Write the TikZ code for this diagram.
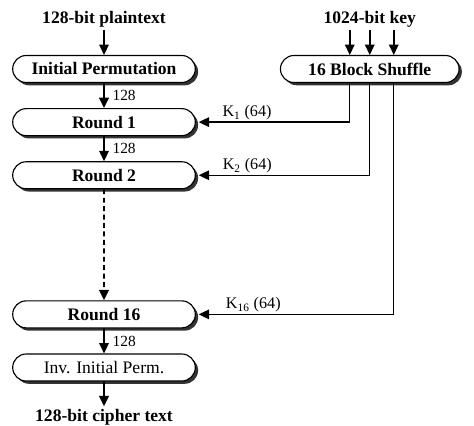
\documentclass[tikz,border=0pt]{standalone}
\usepackage{fontspec}
\setmainfont{Liberation Serif}
\usepackage{tikz}
\usetikzlibrary{shapes.misc, arrows.meta, positioning, shadows}

\begin{document}
\begin{tikzpicture}[
    node distance=0.625cm,
    title/.style={font=\fontsize{12.5}{14}\selectfont\bfseries, inner sep=2pt},
    block/.style={rounded rectangle, minimum width=4.8cm, minimum height=0.675cm, text centered, draw=black, line width=0.8pt, fill=white, font=\fontsize{12.5}{14}\selectfont\bfseries,
        drop shadow={shadow xshift=2pt, shadow yshift=-2pt, fill=black!80, opacity=1}},
    bits/.style={font=\fontsize{11}{12}\selectfont, inner sep=2pt, right, xshift=0.12cm},
    keylabel/.style={font=\fontsize{11.5}{12}\selectfont, inner sep=1pt, anchor=south},
    arrow/.style={line width=1.3pt, -{Triangle[length=0.26cm, width=0.24cm]}},
    keyline/.style={line width=1pt, -{Triangle[length=0.26cm, width=0.24cm]}},
]
    \useasboundingbox (0,0) rectangle (11.85,-10.65);

    % data path
    \node (init) [block] at (2.6,-1.725) {Initial Permutation};
    \node (plain) [title, above=0.62cm of init] {128-bit plaintext};
    \node (round1) [block, below=of init] {Round 1};
    \node (round2) [block, below=of round1] {Round 2};
    \node (round16) [block, below=2.775cm of round2] {Round 16};
    \node (invperm) [block, below=of round16, font=\fontsize{12.5}{14}\selectfont] {Inv. Initial Perm.};
    \node (cipher) [title, below=0.62cm of invperm] {128-bit cipher text};

    % key schedule
    \node (shuffle) [block, minimum width=4.7cm, right=2.1cm of init] {16 Block Shuffle};
    \node (key) [title, above=0.62cm of shuffle] {1024-bit key};

    \draw [arrow] (plain) -- (init);
    \draw [arrow] (init) -- node[bits] {128} (round1);
    \draw [arrow] (round1) -- node[bits] {128} (round2);
    \draw [arrow, dashed, dash pattern=on 3.5pt off 2.5pt] (round2) -- (round16);
    \draw [arrow] (round16) -- node[bits] {128} (invperm);
    \draw [arrow] (invperm) -- (cipher);

    \draw [arrow] ([xshift=-0.5cm]key.south) -- ([xshift=-0.5cm]shuffle.north);
    \draw [arrow] (key.south) -- (shuffle.north);
    \draw [arrow] ([xshift=0.6cm]key.south) -- ([xshift=0.6cm]shuffle.north);

    \draw [keyline] ([xshift=-0.5cm]shuffle.south) |- node[keylabel, pos=0.84] {K\textsubscript{1} (64)} ([xshift=2pt]round1.east);
    \draw [keyline] (shuffle.south) |- node[keylabel, pos=0.858] {K\textsubscript{2} (64)} ([xshift=2pt]round2.east);
    \draw [keyline] ([xshift=0.6cm]shuffle.south) |- node[keylabel, pos=0.86] {K\textsubscript{16} (64)} ([xshift=2pt]round16.east);

\end{tikzpicture}
\end{document}
